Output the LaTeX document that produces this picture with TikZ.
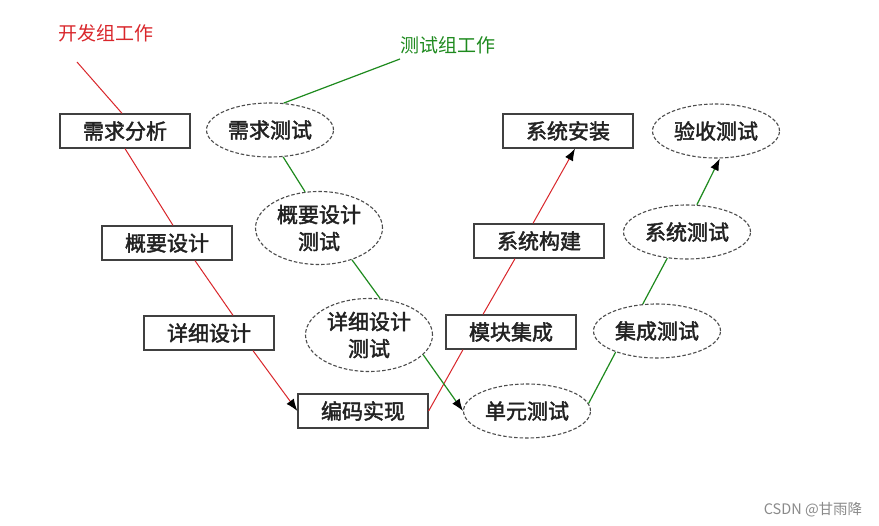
\documentclass[tikz,border=0pt]{standalone}
\usepackage{fontspec}
\setmainfont{Noto Sans CJK SC}
\newfontfamily\boxfont{Noto Sans CJK SC}[FakeBold=2]
\usetikzlibrary{shapes.geometric,arrows.meta}
\definecolor{devred}{HTML}{D9262B}
\definecolor{testgreen}{HTML}{1E8A1E}
\definecolor{ink}{HTML}{222222}
\definecolor{wm}{HTML}{8A8A8A}
\tikzset{
  stagebox/.style={draw=black!75, line width=1.3pt, fill=white, rectangle,
    minimum width=130pt, minimum height=34pt, inner sep=0pt,
    font=\boxfont\fontsize{21}{27}\selectfont, text=ink},
  testell/.style={draw=black!70, line width=1.1pt, dash pattern=on 3.5pt off 2pt,
    fill=white, ellipse, minimum width=127pt, minimum height=54pt, inner sep=0pt,
    align=center, font=\boxfont\fontsize{21}{27}\selectfont, text=ink},
  testell2/.style={testell, minimum height=73pt},
  devline/.style={draw=devred, line width=1pt},
  testline/.style={draw=testgreen, line width=1.2pt},
  tip/.style={-{Latex[length=12pt,width=9pt,color=black]}},
  grouplabel/.style={font=\fontsize{19}{22}\selectfont, inner sep=0pt}
}
\begin{document}
\begin{tikzpicture}[x=1pt,y=-1pt]
\useasboundingbox[fill=white] (0,0) rectangle (879,526);

% labels
\node[grouplabel, text=devred] (devlab) at (106,33) {开发组工作};
\node[grouplabel, text=testgreen] (testlab) at (448,45) {测试组工作};
\coordinate (devstart) at (77,62);
\coordinate (teststart) at (400,59);

% development boxes
\node[stagebox] (req)  at (125,131) {需求分析};
\node[stagebox] (des1) at (167,243) {概要设计};
\node[stagebox] (des2) at (209,333) {详细设计};
\node[stagebox] (code) at (363,411) {编码实现};
\node[stagebox] (integ) at (511,332) {模块集成};
\node[stagebox] (sysb) at (539,241) {系统构建};
\node[stagebox] (inst) at (568,131) {系统安装};

% test ellipses
\node[testell]  (reqt)  at (270,130) {需求测试};
\node[testell2] (des1t) at (319,228) {概要设计\\测试};
\node[testell2] (des2t) at (369,335) {详细设计\\测试};
\node[testell]  (unit)  at (527,411) {单元测试};
\node[testell]  (integt) at (657,331) {集成测试};
\node[testell]  (syst)  at (687,232) {系统测试};
\node[testell]  (acc)   at (716,131) {验收测试};

% development path (red)
\draw[devline] (devstart) -- ([xshift=-3pt]req.north);
\draw[devline] (req.south) -- ([xshift=6pt]des1.north);
\draw[devline] ([xshift=28pt]des1.south) -- ([xshift=24pt]des2.north);
\draw[devline, tip] ([xshift=44pt]des2.south) -- (code.west);
\draw[devline] (code.east) -- ([xshift=-48pt]integ.south);
\draw[devline] ([xshift=-28pt]integ.north) -- ([xshift=-24pt]sysb.south);
\draw[devline, tip] ([xshift=-6pt]sysb.north) -- ([xshift=7pt]inst.south);

% test path (green)
\draw[testline] (teststart) -- (reqt.63);
\draw[testline] (reqt.-64) -- (des1t.111);
\draw[testline] (des1t.-44) -- (des2t.73);
\draw[testline, tip] (des2t.-20) -- (unit.west);
\draw[testline] (unit.7) -- (integt.-153);
\draw[testline] (integt.118) -- (syst.-127);
\draw[testline, tip] (syst.70) -- (acc.-82);

% watermark
\node[font=\fontsize{14.5}{17}\selectfont, text=wm, inner sep=0pt] (wmark) at (813,510) {CSDN @甘雨降};
\end{tikzpicture}
\end{document}
